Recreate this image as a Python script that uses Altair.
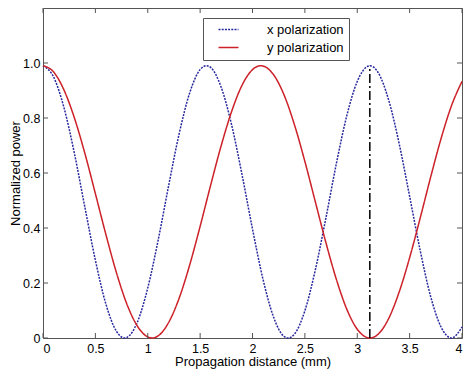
import altair as alt
import pandas as pd

# x polarization (blue dotted)
x_pos = [0.0, 0.1, 0.2, 0.3, 0.4, 0.5, 0.6, 0.7, 0.78, 0.8, 0.9, 1.0, 1.1, 1.2, 1.3, 1.4, 1.5, 1.56, 1.6,
         1.7, 1.8, 1.9, 2.0, 2.1, 2.2, 2.3, 2.34, 2.4, 2.5, 2.6, 2.7, 2.8, 2.9, 3.0, 3.1, 3.12, 3.2, 3.3,
         3.4, 3.5, 3.6, 3.7, 3.8, 3.9, 4.0]
x_pow = [0.99, 0.950, 0.838, 0.671, 0.475, 0.283, 0.124, 0.025, 0.0, 0.002, 0.057, 0.182, 0.357, 0.555, 0.743,
         0.891, 0.976, 0.99, 0.984, 0.913, 0.776, 0.594, 0.396, 0.214, 0.077, 0.006, 0.0, 0.014, 0.099, 0.248,
         0.435, 0.633, 0.808, 0.933, 0.988, 0.99, 0.965, 0.865, 0.707, 0.515, 0.320, 0.152, 0.040, 0.0, 0.040]

# y polarization (red solid)
y_pos = [0.0, 0.1, 0.2, 0.3, 0.4, 0.5, 0.6, 0.7, 0.8, 0.9, 1.0, 1.04, 1.1, 1.2, 1.3, 1.4, 1.5, 1.6, 1.7, 1.8,
         1.9, 2.0, 2.08, 2.1, 2.2, 2.3, 2.4, 2.5, 2.6, 2.7, 2.8, 2.9, 3.0, 3.1, 3.12, 3.2, 3.3, 3.4, 3.5, 3.6,
         3.7, 3.8, 3.9, 4.0]
y_pow = [0.99, 0.968, 0.902, 0.800, 0.671, 0.525, 0.377, 0.239, 0.124, 0.044, 0.004, 0.0, 0.008, 0.057, 0.145,
         0.265, 0.406, 0.555, 0.698, 0.823, 0.919, 0.976, 0.99, 0.989, 0.958, 0.885, 0.776, 0.642, 0.495, 0.348,
         0.214, 0.105, 0.032, 0.001, 0.0, 0.014, 0.071, 0.167, 0.292, 0.435, 0.584, 0.725, 0.845, 0.933]

series = ["x polarization", "y polarization"]
marker_x = [3.12]
marker_bottom = [0.0]
marker_top = [0.99]

x_ticks = [0, 0.5, 1, 1.5, 2, 2.5, 3, 3.5, 4]
y_ticks = [0, 0.2, 0.4, 0.6, 0.8, 1.0]

df = pd.concat([
    pd.DataFrame({"z": x_pos, "p": x_pow, "s": series[0]}),
    pd.DataFrame({"z": y_pos, "p": y_pow, "s": series[1]}),
])
df["order"] = range(len(df))

xs = alt.Scale(domain=[0, 4], nice=False, zero=False)
ys = alt.Scale(domain=[0, 1.2], nice=False)

FONT = "Liberation Sans"
GRAY = "#555555"
PLOT_H = 330

lines = alt.Chart(df).mark_line(strokeWidth=1.5, interpolate="monotone").encode(
    x=alt.X("z:Q", scale=xs, title="Propagation distance (mm)",
            axis=alt.Axis(values=x_ticks, format="~g", ticks=False, domain=False, grid=False,
                          labelPadding=4, titlePadding=1)),
    y=alt.Y("p:Q", scale=ys, title="Normalized power",
            axis=alt.Axis(values=y_ticks, ticks=False, domain=False, grid=False, labelPadding=3,
                          titlePadding=0,
                          labelExpr="datum.value == 0 ? '0' : format(datum.value, '.1f')")),
    color=alt.Color("s:N", scale=alt.Scale(domain=series, range=["#28289e", "#cc2128"]),
                    legend=alt.Legend(title=None, orient="none", legendX=160, legendY=10,
                                      symbolType="M-2,0H2", symbolSize=100, symbolStrokeWidth=1.5,
                                      labelFontSize=13, labelFont=FONT, labelColor="black",
                                      strokeColor=GRAY, fillColor="white", padding=5,
                                      rowPadding=4, labelOffset=32, symbolOffset=14)),
    strokeDash=alt.StrokeDash("s:N", scale=alt.Scale(domain=series, range=[[2, 1.2], [1, 0]]), legend=None),
    order="order:Q",
)

mdf = pd.DataFrame({"z": marker_x, "bot": marker_bottom, "top": marker_top})
marker = alt.Chart(mdf).mark_rule(color="black", strokeWidth=1.5, strokeDash=[9, 3, 2, 3]).encode(
    x=alt.X("z:Q", scale=xs), y=alt.Y("bot:Q", scale=ys), y2="top:Q")

xt = pd.DataFrame({"t": x_ticks})
yt = pd.DataFrame({"t": y_ticks})
tick_style = dict(color=GRAY, strokeWidth=1)
xb = alt.Chart(xt).mark_rule(**tick_style).encode(x=alt.X("t:Q", scale=xs), y=alt.value(PLOT_H), y2=alt.value(PLOT_H - 5))
xtop = alt.Chart(xt).mark_rule(**tick_style).encode(x=alt.X("t:Q", scale=xs), y=alt.value(0), y2=alt.value(5))
yl = alt.Chart(yt).mark_rule(**tick_style).encode(y=alt.Y("t:Q", scale=ys), x=alt.value(0), x2=alt.value(5))
yr = alt.Chart(yt).mark_rule(**tick_style).encode(y=alt.Y("t:Q", scale=ys), x=alt.value(419), x2=alt.value(414))

chart = alt.layer(lines, marker, xb, xtop, yl, yr).properties(
    width=419, height=PLOT_H,
    autosize=alt.AutoSizeParams(type="none"),
    padding={"left": 35, "top": 0, "right": 4, "bottom": 32},
).configure_view(stroke=GRAY, strokeWidth=1).configure_axis(
    labelFont=FONT, titleFont=FONT, labelFontSize=12.5, titleFontSize=13,
    labelColor="black", titleColor="black", titleFontWeight="normal",
)

chart.save("out.html", embed_options={"renderer": "svg", "actions": False})
